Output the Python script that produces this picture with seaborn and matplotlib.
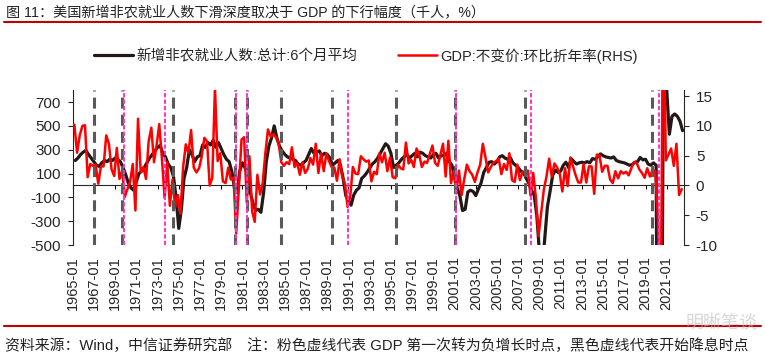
import numpy as np
import pandas as pd
import matplotlib
matplotlib.use('Agg')
import matplotlib.pyplot as plt
import seaborn as sns

sns.set_style('ticks')
plt.rcParams['font.family'] = ['Liberation Sans', 'Noto Sans CJK SC', 'DejaVu Sans']
plt.rcParams['axes.unicode_minus'] = False

# nonfarm payrolls, 6 month average (thousands), sampled Jan/Apr/Jul/Oct, from 1965-04
nfp_avg = [
    210, 230, 260,                # 1965
    280, 295, 260, 230,           # 1966
    200, 170, 160, 190,           # 1967
    210, 200, 220, 210,           # 1968
    230, 220, 200, 150,           # 1969
    90, 20, -20, -40,             # 1970
    30, 100, 120, 150,            # 1971
    190, 230, 260, 290,           # 1972
    320, 336, 270, 240,           # 1973
    180, 150, 80, -100,           # 1974
    -360, -200, 60, 150,          # 1975
    300, 260, 200, 240,           # 1976
    250, 340, 320, 360,           # 1977
    340, 380, 320, 360,           # 1978
    310, 260, 220, 200,           # 1979
    120, -20, -60, 120,           # 1980
    190, 150, 80, -60,            # 1981
    -150, -210, -200, -225,       # 1982
    -60, 195, 330, 400,           # 1983
    500, 400, 330, 290,           # 1984
    260, 240, 230, 220,           # 1985
    210, 180, 170, 190,           # 1986
    210, 260, 310, 270,           # 1987
    280, 290, 250, 270,           # 1988
    260, 230, 170, 190,           # 1989
    210, 170, 60, -85,            # 1990
    -130, -165, -80, -40,         # 1991
    -20, 60, 80, 110,             # 1992
    145, 180, 200, 230,           # 1993
    270, 310, 350, 330,           # 1994
    270, 150, 170, 190,           # 1995
    220, 240, 260, 230,           # 1996
    250, 270, 240, 280,           # 1997
    270, 250, 240, 230,           # 1998
    260, 270, 230, 250,           # 1999
    250, 270, 200, 170,           # 2000
    80, -20, -85, -210,           # 2001
    -200, -55, -40, -50,          # 2002
    -85, -30, 20, 110,            # 2003
    150, 195, 200, 180,           # 2004
    200, 240, 250, 230,           # 2005
    220, 235, 190, 170,           # 2006
    150, 120, 110, 60,            # 2007
    20, -40, -80, -250,           # 2008
    -560, -700, -450, -180,       # 2009
    -50, 85, 130, 110,            # 2010
    120, 170, 195, 150,           # 2011
    225, 200, 180, 190,           # 2012
    195, 190, 200, 190,           # 2013
    225, 220, 240, 265,           # 2014
    250, 240, 235, 230,           # 2015
    240, 210, 200, 195,           # 2016
    190, 180, 170, 175,           # 2017
    195, 200, 235, 215,           # 2018
    220, 180, 170, 190,           # 2019
    170, -3500, -2000, 2000,      # 2020
    800, 430, 580, 600,           # 2021
    580, 540, 460,                # 2022
]

# real GDP, q/q annualized (%), 1965Q1 - 2022Q2
gdp_qoq = [
    10.2, 5.5, 8.4, 10.0,   # 1965
    10.1, 1.4, 3.6, 3.3,    # 1966
    3.5, 0.3, 3.2, 3.2,     # 1967
    8.4, 7.0, 2.7, 1.6,     # 1968
    6.3, 1.1, 2.5, -1.9,    # 1969
    -0.6, 0.6, 3.6, -4.2,   # 1970
    11.2, 2.2, 3.1, 1.1,    # 1971
    7.4, 9.7, 3.9, 6.8,     # 1972
    10.3, 4.5, -2.1, 3.9,   # 1973
    -3.4, 1.0, -3.7, -1.6,  # 1974
    -4.7, 3.1, 6.9, 5.4,    # 1975
    9.3, 3.0, 2.2, 2.9,     # 1976
    4.8, 8.0, 7.4, 0.0,     # 1977
    1.3, 16.4, 4.1, 5.4,    # 1978
    0.7, 0.4, 3.0, 1.0,     # 1979
    1.3, -8.0, -0.5, 7.7,   # 1980
    8.1, -2.9, 4.9, -4.3,   # 1981
    -6.1, 1.8, -1.5, 0.4,   # 1982
    5.4, 9.4, 8.2, 8.6,     # 1983
    8.1, 7.1, 3.9, 3.3,     # 1984
    3.9, 3.6, 6.4, 3.1,     # 1985
    3.8, 1.8, 3.9, 2.1,     # 1986
    2.8, 4.6, 3.5, 7.0,     # 1987
    2.1, 5.4, 2.4, 5.4,     # 1988
    4.1, 3.1, 3.0, 0.8,     # 1989
    4.4, 1.5, 0.3, -3.6,    # 1990
    -1.9, 3.1, 2.0, 1.9,    # 1991
    4.9, 4.4, 4.0, 4.2,     # 1992
    0.7, 2.3, 1.9, 5.4,     # 1993
    3.9, 5.5, 2.4, 4.7,     # 1994
    1.4, 1.2, 3.5, 2.9,     # 1995
    2.7, 7.2, 3.7, 4.3,     # 1996
    3.1, 6.2, 5.2, 3.1,     # 1997
    4.0, 3.8, 5.3, 6.7,     # 1998
    3.8, 3.3, 5.2, 7.0,     # 1999
    1.5, 7.5, 0.4, 2.4,     # 2000
    -1.3, 2.5, -1.6, 1.1,   # 2001
    3.5, 2.4, 1.8, 0.6,     # 2002
    2.2, 3.5, 7.0, 4.7,     # 2003
    2.2, 3.1, 3.8, 4.1,     # 2004
    4.5, 1.9, 3.6, 2.6,     # 2005
    5.4, 0.9, 0.6, 3.5,     # 2006
    0.9, 2.3, 2.2, 2.5,     # 2007
    -1.7, 2.1, -2.1, -8.5,  # 2008
    -4.6, -0.7, 1.5, 4.5,   # 2009
    1.5, 3.7, 3.0, 2.0,     # 2010
    -1.0, 2.9, -0.1, 4.7,   # 2011
    3.2, 1.7, 0.5, 0.5,     # 2012
    3.6, 0.5, 3.2, 3.2,     # 2013
    -1.4, 5.2, 5.0, 2.3,    # 2014
    3.3, 3.3, 1.0, 0.4,     # 2015
    2.4, 1.2, 2.4, 2.0,     # 2016
    2.3, 1.7, 2.9, 3.9,     # 2017
    3.8, 2.7, 2.1, 1.3,     # 2018
    2.9, 1.5, 2.6, 2.4,     # 2019
    -5.3, -28.0, 34.8, 4.2, # 2020
    5.2, 6.2, 3.3, 7.0,     # 2021
    -1.6, -0.6,             # 2022
]

# GDP first turns negative (pink) / start of rate cuts (grey)
gdp_neg_dates = ['1969-11', '1973-09', '1980-06', '1981-06', '1990-12',
                 '2001-03', '2008-03', '2020-04']
rate_cut_dates = ['1967-01', '1969-09', '1974-07', '1980-05', '1981-06', '1984-09',
                  '1989-06', '1995-07', '2001-01', '2007-09', '2019-08']

nfp_label = '新增非农就业人数:总计:6个月平均'
gdp_label = 'GDP:不变价:环比折年率(RHS)'

nfp = pd.DataFrame({'date': pd.date_range('1965-04-01', periods=len(nfp_avg), freq='QS-JAN'),
                    'value': nfp_avg})
gdp = pd.DataFrame({'date': pd.date_range('1965-03-01', periods=len(gdp_qoq), freq='QS-MAR'),
                    'value': gdp_qoq})

fig = plt.figure(figsize=(7.65, 3.62), dpi=100)
ax = fig.add_axes([0.095, 0.323, 0.799, 0.428])
ax2 = ax.twinx()

sns.lineplot(data=nfp, x='date', y='value', ax=ax, color='#231815', lw=2.3, legend=False)
sns.lineplot(data=gdp, x='date', y='value', ax=ax2, color='#ff0000', lw=1.8, legend=False)

for d in rate_cut_dates:
    ax2.axvline(pd.Timestamp(d), color='#595959', lw=2.2, dashes=(3.6, 2.0), zorder=5)
for d in gdp_neg_dates:
    ax2.axvline(pd.Timestamp(d), color='#ff33cc', lw=1.4, dashes=(2.2, 1.1), zorder=6)

ax.set_ylim(-500, 800)
ax.set_yticks(np.arange(-500, 701, 200))
ax2.set_ylim(-10, 16)
ax2.set_yticks(np.arange(-10, 16, 5))
ax.set_xlim(pd.Timestamp('1965-01-01'), pd.Timestamp('2022-08-15'))

ticks = pd.date_range('1965-01-01', '2022-01-01', freq='2YS')
ax.set_xticks(ticks)
ax.set_xticklabels([t.strftime('%Y-%m') for t in ticks])

ax.spines['bottom'].set_position(('data', 0))
ax.spines['top'].set_visible(False)
ax.spines['right'].set_visible(False)
for s in ['top', 'bottom', 'left']:
    ax2.spines[s].set_visible(False)
ax.tick_params(axis='x', length=3, pad=48, color='black', labelrotation=90, labelsize=10.5)
ax.tick_params(axis='y', length=3.4, pad=5, labelsize=11)
ax2.tick_params(axis='y', length=3.6, pad=5, labelsize=11)
ax.set_xlabel('')
ax.set_ylabel('')
ax2.set_ylabel('')

handles = [ax.lines[0], ax2.lines[0]]
fig.legend(handles, [nfp_label, gdp_label], loc='center', bbox_to_anchor=(0.478, 0.846),
           ncol=2, frameon=False, fontsize=10.5, handlelength=2.7, handletextpad=0.2,
           columnspacing=2.8)

fig.text(0.008, 0.965, '图 11：美国新增非农就业人数下滑深度取决于 GDP 的下行幅度（千人，%）',
         fontsize=10.2, color='#222222', va='center', ha='left')
fig.add_artist(plt.Line2D([0.005, 0.995], [0.939, 0.939], color='#c00000', lw=1.5))
fig.add_artist(plt.Line2D([0.005, 0.995], [0.099, 0.099], color='#c00000', lw=1.5))
fig.text(0.006, 0.044, '资料来源：Wind，中信证券研究部　注：粉色虚线代表 GDP 第一次转为负增长时点，黑色虚线代表开始降息时点',
         fontsize=10.7, color='#222222', va='center', ha='left')
fig.text(0.99, 0.105, '明晰笔谈', fontsize=13, color='#bbbbbb', alpha=0.6, ha='right', va='center')

fig.savefig('out.png', dpi=100)
